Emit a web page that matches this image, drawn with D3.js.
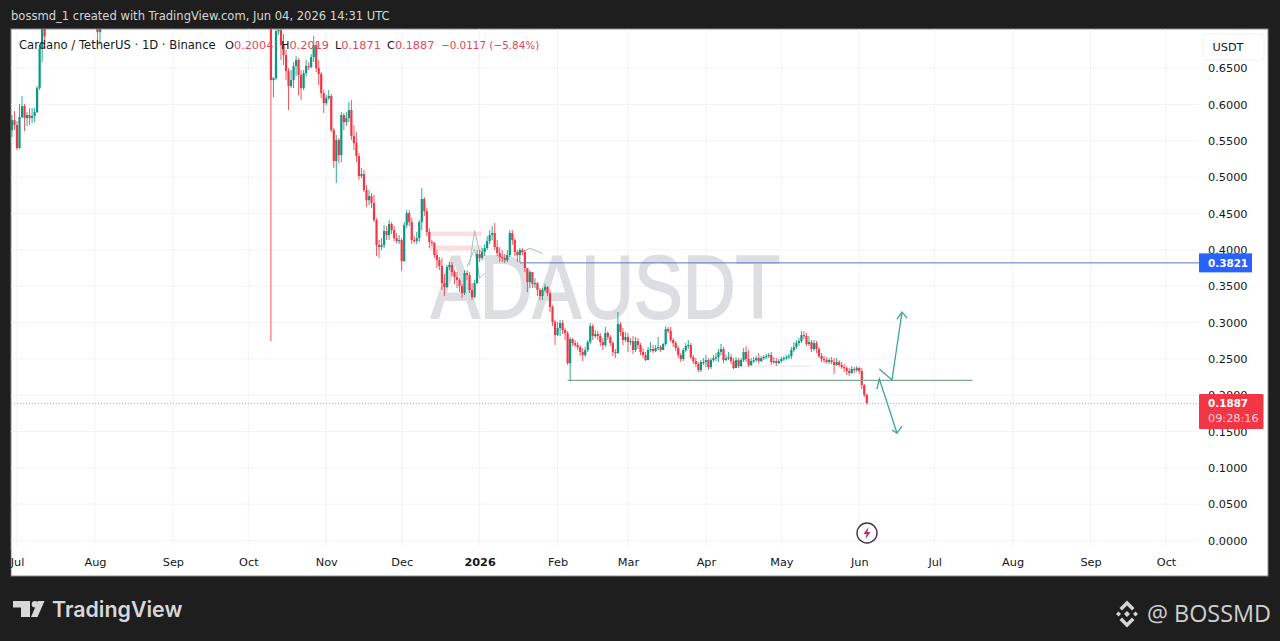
<!DOCTYPE html>
<html>
<head>
<meta charset="utf-8">
<script src="https://cdn.jsdelivr.net/npm/d3@7"></script>
<style>
  html, body { margin: 0; padding: 0; background: #1e1e1e; overflow: hidden; }
  svg { display: block; }
  text { font-family: "DejaVu Sans", sans-serif; }
</style>
</head>
<body>
<svg id="chart" width="1280" height="641"></svg>
<script>
// ----------------------------
// Data
// ----------------------------
// the candles come in three visible runs, the rest is above the top of the pane
const runStarts = ["2025-06-29", "2025-08-01", "2025-10-10"];
const runLengths = [14, 3, 238];
const runOpens = [0.5648, 0.7600, 0.7800];

const closes = [
  // Jun 29 - Jul 12
  .5786,.5717,.5401,.5827,.5978,.5813,.5855,.5813,.5841,.5896,.6226,.6777,.7300,.6940,
  // Aug 1 - 3
  .7300,.6997,.7300,
  // Oct 10 - 31
  .6336,.6363,.7010,.7024,.6818,.6680,.6460,.6254,.6336,.6529,.6612,.6405,.6226,.6433,.6529,.6515,.6653,.6818,.6501,.6419,.6157,.6020,
  // Nov
  .6088,.6116,.5648,.5222,.5511,.5304,.5855,.5758,.5813,.5923,.5566,.5469,.5290,.5015,.5043,.4823,.4685,.4740,.4644,.4410,.4066,.4038,.4066,.4259,.4204,.4355,.4272,.4162,.4121,.4135,
  // Dec
  .3846,.4341,.4506,.4382,.4135,.4121,.4162,.4382,.4699,.4534,.4245,.4107,.4093,.3928,.3859,.3777,.3543,.3488,.3763,.3791,.3694,.3625,.3584,.3502,.3405,.3680,.3653,.3447,.3350,.3543,.3942,
  // Jan
  .3887,.3969,.4025,.4121,.4204,.4231,.4038,.3956,.3901,.3887,.3859,.3928,.4231,.4135,.3969,.3928,.3997,.3969,.3749,.3557,.3694,.3529,.3543,.3447,.3364,.3447,.3488,.3405,.3213,.3006,.2827,
  // Feb
  .2924,.2993,.2896,.2855,.2442,.2772,.2717,.2690,.2662,.2594,.2552,.2621,.2731,.2951,.2814,.2841,.2814,.2731,.2690,.2855,.2800,.2717,.2594,.2580,.2979,.2869,.2759,.2800,
  // Mar
  .2731,.2745,.2621,.2745,.2690,.2594,.2552,.2483,.2621,.2635,.2607,.2649,.2662,.2621,.2704,.2910,.2882,.2759,.2717,.2649,.2552,.2497,.2621,.2676,.2690,.2525,.2470,.2428,.2346,.2456,.2456,
  // Apr
  .2483,.2387,.2483,.2511,.2525,.2594,.2635,.2483,.2511,.2525,.2470,.2373,.2483,.2401,.2483,.2594,.2497,.2415,.2470,.2483,.2511,.2470,.2511,.2525,.2538,.2552,.2456,.2470,.2442,.2470,
  // May
  .2497,.2511,.2525,.2538,.2621,.2662,.2717,.2745,.2827,.2814,.2704,.2731,.2635,.2717,.2635,.2538,.2497,.2483,.2456,.2483,.2456,.2415,.2456,.2415,.2387,.2373,.2332,.2305,.2360,.2346,.2373,
  // Jun 1 - 4
  .2332,.2139,.2004,.1887
];

const highs = [
  .5855,.5910,.5772,.6006,.6116,.6006,.5896,.5951,.5951,.5951,.6254,.6818,.7600,.7500,
  .7700,.7400,.7400,
  .8000,.6378,.7038,.7200,.7150,.6970,.6749,.6501,.6474,.6584,.6666,.6639,.6474,.6474,.6612,.6584,.6694,.6942,.6859,.6612,.6446,.6199,
  .6130,.6199,.6144,.5676,.5579,.5538,.5896,.5882,.5896,.6034,.6061,.5717,.5621,.5332,.5125,.5098,.4891,.4823,.4781,.4754,.4437,.4135,.4162,.4341,.4327,.4410,.4382,.4327,.4231,.4204,
  .4162,.4382,.4547,.4547,.4437,.4190,.4245,.4410,.4850,.4726,.4575,.4300,.4135,.4107,.3997,.3901,.3887,.3667,.3791,.3832,.3832,.3722,.3694,.3612,.3529,.3722,.3722,.3694,.3543,.3584,.3997,
  .3997,.4025,.4080,.4190,.4272,.4327,.4368,.4135,.4038,.3997,.3942,.3997,.4272,.4272,.4162,.3997,.4025,.4025,.3997,.3749,.3722,.3694,.3612,.3557,.3474,.3474,.3529,.3502,.3447,.3240,.3034,
  .3006,.3034,.3034,.2924,.2882,.2800,.2786,.2759,.2731,.2690,.2649,.2662,.2759,.2993,.2979,.2896,.2882,.2855,.2786,.2938,.2882,.2827,.2745,.2635,.3144,.3006,.2924,.2869,
  .2855,.2786,.2814,.2800,.2786,.2717,.2649,.2594,.2662,.2731,.2690,.2690,.2800,.2690,.2717,.2951,.2938,.2938,.2786,.2745,.2676,.2580,.2649,.2717,.2759,.2717,.2552,.2511,.2456,.2483,.2511,
  .2552,.2511,.2511,.2552,.2580,.2635,.2704,.2662,.2552,.2594,.2566,.2511,.2525,.2511,.2511,.2649,.2676,.2621,.2511,.2525,.2538,.2580,.2538,.2552,.2566,.2580,.2594,.2525,.2511,.2497,
  .2525,.2538,.2552,.2566,.2662,.2731,.2759,.2786,.2882,.2882,.2855,.2814,.2759,.2759,.2745,.2662,.2580,.2538,.2525,.2511,.2525,.2511,.2511,.2483,.2456,.2428,.2401,.2373,.2401,.2387,.2401,
  .2387,.2373,.2153,.2019
];

const lows = [
  .5552,.5648,.5373,.5387,.5813,.5634,.5703,.5717,.5745,.5758,.5882,.6199,.6584,.6870,
  .7100,.6820,.6835,
  .2745,.6102,.6336,.6955,.6612,.6543,.6336,.5923,.6226,.6226,.6391,.6130,.6061,.6199,.6391,.6474,.6501,.6584,.6446,.6267,.6088,.5882,
  .5992,.6061,.5621,.5125,.4919,.5194,.5208,.5648,.5703,.5758,.5511,.5373,.5208,.4960,.4988,.4795,.4589,.4616,.4575,.4382,.3914,.3887,.3997,.4025,.4135,.4135,.4217,.4121,.4093,.4080,
  .3708,.3832,.4300,.4327,.4080,.4093,.4080,.4107,.4272,.4465,.4190,.4025,.4052,.3887,.3749,.3722,.3447,.3364,.3474,.3722,.3639,.3529,.3474,.3419,.3336,.3378,.3584,.3405,.3309,.3336,.3529,
  .3832,.3859,.3914,.3997,.4080,.4135,.3997,.3914,.3832,.3832,.3818,.3832,.3901,.4066,.3914,.3832,.3832,.3928,.3694,.3419,.3474,.3474,.3474,.3364,.3309,.3309,.3419,.3364,.3144,.2951,.2690,
  .2814,.2814,.2841,.2759,.2415,.2208,.2676,.2662,.2621,.2538,.2470,.2525,.2594,.2704,.2759,.2786,.2759,.2676,.2621,.2662,.2759,.2676,.2538,.2511,.2566,.2814,.2690,.2731,
  .2594,.2690,.2566,.2594,.2635,.2552,.2511,.2470,.2483,.2594,.2580,.2594,.2621,.2594,.2621,.2676,.2855,.2731,.2662,.2607,.2511,.2456,.2470,.2594,.2635,.2497,.2428,.2387,.2318,.2318,.2415,
  .2387,.2346,.2360,.2456,.2470,.2456,.2552,.2442,.2470,.2483,.2428,.2360,.2373,.2373,.2387,.2456,.2456,.2387,.2401,.2442,.2456,.2442,.2456,.2483,.2497,.2511,.2415,.2428,.2401,.2428,
  .2442,.2470,.2483,.2497,.2497,.2594,.2635,.2676,.2717,.2772,.2676,.2676,.2594,.2607,.2580,.2511,.2456,.2442,.2442,.2428,.2428,.2291,.2401,.2387,.2360,.2318,.2277,.2263,.2291,.2305,.2318,
  .2291,.2084,.1975,.1871
];

const priceTicks = [0,.05,.1,.15,.2,.25,.3,.35,.4,.45,.5,.55,.6,.65];
const monthTicks = ["2025-07-01","2025-08-01","2025-09-01","2025-10-01","2025-11-01","2025-12-01","2026-01-01",
  "2026-02-01","2026-03-01","2026-04-01","2026-05-01","2026-06-01","2026-07-01","2026-08-01","2026-09-01","2026-10-01"];
const monthLabels = ["Jul","Aug","Sep","Oct","Nov","Dec","2026","Feb","Mar","Apr","May","Jun","Jul","Aug","Sep","Oct"];

const lastPrice = 0.1887;
const countdown = "09:28:16";
const alertPrice = 0.3821;
const alertStart = "2026-01-17";
const supportPrice = 0.2203;
const supportSpan = ["2026-02-05", "2026-07-16"];

// the hand drawn arrows, as [date, price]
const arrowUp = [["2026-06-09",.2360],["2026-06-14",.2208],["2026-06-18",.3144]];
const arrowUpHead = [["2026-06-16",.3048],["2026-06-18",.3144],["2026-06-20",.3061]];
const arrowDown = [["2026-06-08",.2084],["2026-06-09",.2222],["2026-06-16",.1479]];
const arrowDownHead = [["2026-06-14",.1520],["2026-06-16",.1479],["2026-06-18",.1575]];
// faint older drawings left on the chart
const oldWedgeA = [["2025-12-28",.3790],["2025-12-30",.4265],["2026-01-01",.3970],["2026-01-03",.4000]];
const oldWedgeB = [["2025-12-27",.3770],["2025-12-30",.4010],["2026-01-01",.3610],["2026-01-03",.3680]];
const oldCaret = [["2026-01-16",.3950],["2026-01-21",.4020],["2026-01-26",.3950]];
const oldBand = [["2025-12-12",.4250,.4190],["2025-12-12",.4060,.3990]];
const oldBandEnd = "2026-01-02";
const oldBox = [["2026-04-15",.2400],["2026-05-13",.2400]];

const legendLabels = [["O","0.2004"],["H","0.2019"],["L","0.1871"],["C","0.1887"]];
const legendChange = "\u22120.0117 (\u22125.84%)";

// ----------------------------
// Sizes and scales
// ----------------------------
const Vis = {};
Vis.left = 11; Vis.right = 1268; Vis.top = 29; Vis.bottom = 576;
Vis.paneRight = 1199; Vis.paneBottom = 546;
Vis.green = "#089981"; Vis.red = "#f23645"; Vis.grid = "#f0f3fa"; Vis.ink = "#131722";

const parse = d3.utcParse("%Y-%m-%d");

Vis.x = d3.scaleUtc()
  .domain([parse("2025-07-01"), parse("2026-10-01")])
  .range([17, 1166]);
Vis.y = d3.scaleLinear()
  .domain([0, 0.65])
  .range([540.5, 68.2]);

// one row per candle, open is the close before it inside a run
const candles = [];
runStarts.forEach((start, r) => {
  const from = d3.sum(runLengths.slice(0, r));
  for (let i = 0; i < runLengths[r]; i++) {
    const k = from + i;
    candles.push({
      date: d3.utcDay.offset(parse(start), i),
      open: i === 0 ? runOpens[r] : closes[k - 1],
      close: closes[k], high: highs[k], low: lows[k]
    });
  }
});

const svg = d3.select("#chart");
svg.append("rect").attr("width", 1280).attr("height", 641).attr("fill", "#1e1e1e");
svg.append("rect")
  .attr("x", Vis.left).attr("y", Vis.top)
  .attr("width", Vis.right - Vis.left).attr("height", Vis.bottom - Vis.top)
  .attr("fill", "#fff").attr("stroke", "#8a8a8a").attr("stroke-width", 1);

svg.append("defs").append("clipPath").attr("id", "pane").append("rect")
  .attr("x", Vis.left).attr("y", Vis.top)
  .attr("width", Vis.paneRight - Vis.left).attr("height", Vis.paneBottom - Vis.top);

const pane = svg.append("g").attr("clip-path", "url(#pane)");

// ----------------------------
// Grid and watermark
// ----------------------------
pane.selectAll(".hgrid").data(priceTicks).join("line")
  .attr("class", "hgrid")
  .attr("x1", Vis.left).attr("x2", Vis.paneRight)
  .attr("y1", d => Vis.y(d)).attr("y2", d => Vis.y(d))
  .attr("stroke", Vis.grid);
pane.selectAll(".vgrid").data(monthTicks).join("line")
  .attr("class", "vgrid")
  .attr("x1", d => Vis.x(parse(d))).attr("x2", d => Vis.x(parse(d)))
  .attr("y1", Vis.top).attr("y2", Vis.paneBottom)
  .attr("stroke", Vis.grid);

pane.append("text")
  .attr("x", 431).attr("y", 317.5)
  .attr("textLength", 349).attr("lengthAdjust", "spacingAndGlyphs")
  .style("font-family", "'Liberation Sans'").style("font-size", "89px")
  .attr("fill", "#dcdee1").attr("stroke", "#dcdee1").attr("stroke-width", 2)
  .text("ADAUSDT");

// ----------------------------
// Old faint drawings
// ----------------------------
const line = d3.line().x(d => Vis.x(parse(d[0]))).y(d => Vis.y(d[1]));

pane.selectAll(".band").data(oldBand).join("rect")
  .attr("class", "band")
  .attr("x", d => Vis.x(parse(d[0])))
  .attr("y", d => Vis.y(d[1]))
  .attr("width", d => Vis.x(parse(oldBandEnd)) - Vis.x(parse(d[0])))
  .attr("height", d => Vis.y(d[2]) - Vis.y(d[1]))
  .attr("fill", "#fcdde2");

[oldWedgeA, oldWedgeB, oldCaret].forEach(pts => {
  pane.append("path").attr("d", line(pts))
    .attr("fill", "none").attr("stroke", "#9cc4b8").attr("stroke-width", 1);
});
pane.append("path").attr("d", line(oldBox))
  .attr("fill", "none").attr("stroke", "#e4e4e4").attr("stroke-width", 1);

// ----------------------------
// Candles
// ----------------------------
const color = d => d.close >= d.open ? Vis.green : Vis.red;

pane.selectAll(".wick").data(candles).join("line")
  .attr("class", "wick")
  .attr("x1", d => Vis.x(d.date)).attr("x2", d => Vis.x(d.date))
  .attr("y1", d => Vis.y(d.high)).attr("y2", d => Vis.y(d.low))
  .attr("stroke", color).attr("stroke-width", 0.85);

pane.selectAll(".body").data(candles).join("rect")
  .attr("class", "body")
  .attr("x", d => Vis.x(d.date) - 1.1)
  .attr("width", 2.2)
  .attr("y", d => Vis.y(Math.max(d.open, d.close)))
  .attr("height", d => Math.max(1.2, Math.abs(Vis.y(d.open) - Vis.y(d.close))))
  .attr("fill", color);

// ----------------------------
// Lines and arrows on top
// ----------------------------
pane.append("line")
  .attr("x1", Vis.left).attr("x2", Vis.paneRight)
  .attr("y1", Vis.y(lastPrice)).attr("y2", Vis.y(lastPrice))
  .attr("stroke", "#a8adb8").attr("stroke-width", 1).attr("stroke-dasharray", "1 2");

pane.append("line")
  .attr("x1", Vis.x(parse(alertStart))).attr("x2", Vis.paneRight)
  .attr("y1", Vis.y(alertPrice)).attr("y2", Vis.y(alertPrice))
  .attr("stroke", "#5a78c8").attr("stroke-width", 1);

pane.append("line")
  .attr("x1", Vis.x(parse(supportSpan[0]))).attr("x2", Vis.x(parse(supportSpan[1])))
  .attr("y1", Vis.y(supportPrice)).attr("y2", Vis.y(supportPrice))
  .attr("stroke", "#7fa98d").attr("stroke-width", 1.2);

[arrowUp, arrowUpHead, arrowDown, arrowDownHead].forEach(pts => {
  pane.append("path").attr("d", line(pts))
    .attr("fill", "none").attr("stroke", "#3fa597").attr("stroke-width", 1.3);
});

// ----------------------------
// Axes
// ----------------------------
const yAxis = svg.append("g")
  .attr("transform", "translate(1208,0)")
  .call(d3.axisRight(Vis.y).tickValues(priceTicks).tickSize(0).tickPadding(0).tickFormat(d3.format(".4f")));
yAxis.select(".domain").remove();
yAxis.selectAll("text").attr("fill", Vis.ink).style("font-size", "11.3px");

const xAxis = svg.append("g")
  .attr("transform", "translate(0,555)")
  .call(d3.axisBottom(Vis.x)
    .tickValues(monthTicks.map(parse))
    .tickSize(0).tickPadding(3)
    .tickFormat((d, i) => monthLabels[i]));
xAxis.select(".domain").remove();
xAxis.selectAll("text")
  .attr("fill", Vis.ink)
  .style("font-size", "11.3px")
  .style("font-weight", (d, i) => monthLabels[i] === "2026" ? "bold" : "normal");
// the first label runs off the panel on the left
svg.append("rect").attr("x", 0).attr("y", 550).attr("width", Vis.left - 0.5).attr("height", 26).attr("fill", "#1e1e1e");

// ----------------------------
// Price labels
// ----------------------------
svg.append("rect").attr("x", 1199).attr("y", Vis.y(alertPrice) - 9.5)
  .attr("width", 53).attr("height", 19).attr("fill", "#2962ff");
svg.append("text").attr("x", 1208).attr("y", Vis.y(alertPrice) + 4)
  .attr("fill", "#fff").style("font-size", "10.4px").style("font-weight", "bold")
  .text(alertPrice.toFixed(4));

svg.append("rect").attr("x", 1199).attr("y", Vis.y(lastPrice) - 9.5)
  .attr("width", 64.5).attr("height", 35).attr("rx", 1).attr("fill", Vis.red);
svg.append("text").attr("x", 1208).attr("y", Vis.y(lastPrice) + 4)
  .attr("fill", "#fff").style("font-size", "10.4px").style("font-weight", "bold")
  .text(lastPrice.toFixed(4));
svg.append("text").attr("x", 1208).attr("y", Vis.y(lastPrice) + 19)
  .attr("fill", "#fbd3d8").style("font-size", "11.3px")
  .text(countdown);

// currency button
svg.append("rect").attr("x", 1203).attr("y", 34).attr("width", 61).attr("height", 26)
  .attr("rx", 3).attr("fill", "#fff").attr("stroke", "#eef0f4");
svg.append("text").attr("x", 1228).attr("y", 51).attr("text-anchor", "middle")
  .attr("fill", Vis.ink).style("font-size", "11.3px").text("USDT");

// lightning mark under the last candle
const bolt = svg.append("g").attr("transform", "translate(867,533)");
bolt.append("circle").attr("r", 10).attr("fill", "#fff").attr("stroke", "#4b3144").attr("stroke-width", 1.4);
bolt.append("path").attr("d", "M1.6,-6 L-3.6,1 L-0.4,1 L-1.6,6 L3.6,-1 L0.4,-1 Z").attr("fill", "#b9326f");

// ----------------------------
// Legend and header
// ----------------------------
svg.append("text").attr("x", 19).attr("y", 49).attr("fill", Vis.ink)
  .style("font-size", "11.6px").text("Cardano / TetherUS \u00b7 1D \u00b7 Binance");

const legendX = [225, 281, 335, 387];
legendLabels.forEach((pair, i) => {
  const t = svg.append("text").attr("x", legendX[i]).attr("y", 49).style("font-size", "11.3px");
  t.append("tspan").attr("fill", Vis.ink).text(pair[0]);
  t.append("tspan").attr("fill", "#e2475a").text(pair[1]);
});
svg.append("text").attr("x", 441).attr("y", 49).attr("fill", "#e2475a")
  .style("font-size", "10.4px").text(legendChange);

svg.append("text").attr("x", 11).attr("y", 20).attr("fill", "#d6d6d6")
  .style("font-size", "11.55px")
  .text("bossmd_1 created with TradingView.com, Jun 04, 2026 14:31 UTC");

// ----------------------------
// Footer logos
// ----------------------------
const tv = svg.append("g").attr("transform", "translate(13,601)").attr("fill", "#d8d8d8");
tv.append("path").attr("d", "M0,0 H17 V16 H8 V6.5 H0 Z");
tv.append("circle").attr("cx", 22).attr("cy", 3.3).attr("r", 3.3);
tv.append("path").attr("d", "M24.5,16 H18 L25,0 H31.5 Z");
svg.append("text").attr("x", 52).attr("y", 617)
  .attr("fill", "#d8d8d8")
  .style("font-family", "Inter").style("font-size", "21.4px").style("font-weight", "600")
  .text("TradingView");

const bn = svg.append("g").attr("transform", "translate(1127,614)").attr("fill", "#d4d4d4");
bn.append("path").attr("d", "M0,-3 L3,0 L0,3 L-3,0 Z");
bn.append("path").attr("d", "M-11,0 L-8.5,-2.5 L-6,0 L-8.5,2.5 Z");
bn.append("path").attr("d", "M11,0 L8.5,-2.5 L6,0 L8.5,2.5 Z");
bn.append("path").attr("d", "M0,-13.5 L7.5,-6 L5,-3.5 L0,-8.5 L-5,-3.5 L-7.5,-6 Z");
bn.append("path").attr("d", "M0,13.5 L7.5,6 L5,3.5 L0,8.5 L-5,3.5 L-7.5,6 Z");
svg.append("text").attr("x", 1147).attr("y", 622)
  .attr("fill", "#cfcfcf")
  .style("font-family", "'Open Sans'").style("font-size", "23.4px")
  .text("@ BOSSMD");
</script>
</body>
</html>
